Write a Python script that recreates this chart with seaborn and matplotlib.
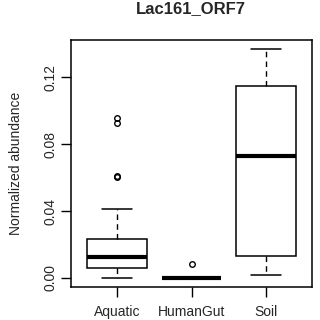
import matplotlib
matplotlib.use("Agg")
import matplotlib.pyplot as plt
import seaborn as sns
import pandas as pd

aquatic = [0.0, 0.001, 0.002, 0.003, 0.004, 0.005, 0.0058, 0.007, 0.008, 0.009,
           0.010, 0.011, 0.0124, 0.014, 0.016, 0.018, 0.020, 0.022, 0.0233,
           0.028, 0.041, 0.0603, 0.061, 0.0925, 0.0955]
humangut = [0.0] * 14 + [0.0085]
soil = [0.0018, 0.008, 0.0133, 0.04, 0.0728, 0.09, 0.1148, 0.125, 0.1367]
categories = ["Aquatic", "HumanGut", "Soil"]
yticks = [0.00, 0.04, 0.08, 0.12]
title = "Lac161_ORF7"
ylabel = "Normalized abundance"

df = pd.DataFrame({
    "group": ["Aquatic"] * len(aquatic) + ["HumanGut"] * len(humangut) + ["Soil"] * len(soil),
    "value": aquatic + humangut + soil,
})

sns.set_style("white")
plt.rcParams["font.family"] = ["Liberation Sans", "DejaVu Sans"]

fig = plt.figure(figsize=(3.2, 3.2), dpi=100)
ax = fig.add_axes([0.222, 0.103, 0.753, 0.772])

sns.boxplot(data=df, x="group", y="value", order=categories, ax=ax,
            color="white", linecolor="black", width=0.8, whis=1.5,
            boxprops=dict(facecolor="white", edgecolor="black", linewidth=1.1),
            whiskerprops=dict(color="black", linewidth=1.0, linestyle=(0, (4, 3))),
            capprops=dict(color="black", linewidth=1.1),
            medianprops=dict(color="black", linewidth=3.0),
            flierprops=dict(marker="o", markersize=4, markerfacecolor="none",
                            markeredgecolor="black", markeredgewidth=1.0))

ax.set_xlim(-0.62, 2.62)
ax.set_ylim(-0.0054, 0.1421)
ax.set_yticks(yticks)
ax.set_yticklabels([f"{v:.2f}" for v in yticks], rotation=90, va="center")
ax.set_xlabel("")
ax.set_ylabel(ylabel, fontsize=10)
ax.yaxis.set_label_coords(-0.20, 0.5)
ax.tick_params(axis="both", direction="out", length=7, width=1, color="black",
               labelsize=10, left=True, bottom=True)
ax.tick_params(axis="x", pad=6)
ax.tick_params(axis="y", pad=3)
for s in ax.spines.values():
    s.set_visible(True)
    s.set_color("black")
    s.set_linewidth(1.1)
fig.text(0.598, 0.96, title, fontsize=12, fontweight="bold", ha="center", va="baseline")

fig.savefig("out.png", dpi=100)
